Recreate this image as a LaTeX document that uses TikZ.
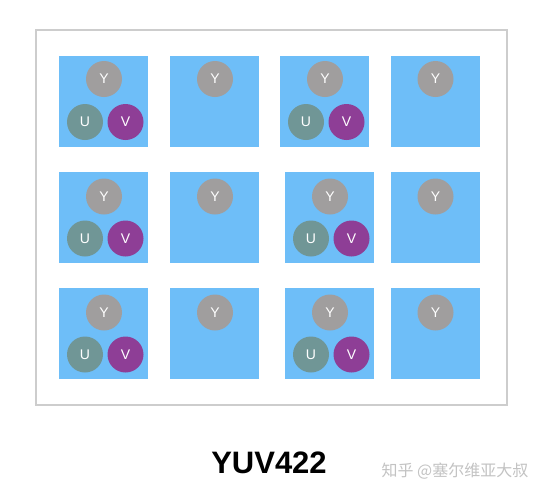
\documentclass[tikz,border=0pt]{standalone}
\usepackage{fontspec}
\setmainfont{Liberation Sans}
\newfontfamily\cjk{Noto Sans CJK SC}
\definecolor{pixblue}{RGB}{110,190,248}
\definecolor{ygray}{RGB}{160,158,158}
\definecolor{uteal}{RGB}{112,150,150}
\definecolor{vpurple}{RGB}{142,62,150}
\definecolor{framegray}{RGB}{205,205,205}
\definecolor{markgray}{RGB}{195,195,195}
\tikzset{
    pixel/.style={fill=pixblue, rectangle, minimum width=89pt, minimum height=91pt, inner sep=0, outer sep=0},
    sample/.style={circle, minimum size=36pt, inner sep=0, outer sep=0, text=white, font=\fontsize{14}{14}\selectfont},
    lumy/.style={sample, fill=ygray},
    chru/.style={sample, fill=uteal},
    chrv/.style={sample, fill=vpurple}
}
\begin{document}
\begin{tikzpicture}[x=1pt, y=-1pt]
    \useasboundingbox[fill=white] (0,0) rectangle (544,496);
    \draw[framegray, line width=1.5pt] (36,30) rectangle (507,405);
    % pixel grid
    \node[pixel] (p11) at (103.5,101) {};
    \node[pixel] (p12) at (214.5,101) {};
    \node[pixel] (p13) at (324.5,101) {};
    \node[pixel] (p14) at (435,101) {};
    \node[pixel] (p21) at (103.5,217.5) {};
    \node[pixel] (p22) at (214.5,217.5) {};
    \node[pixel] (p23) at (329.5,217.5) {};
    \node[pixel] (p24) at (435,217.5) {};
    \node[pixel] (p31) at (103.5,333.5) {};
    \node[pixel] (p32) at (214.5,333.5) {};
    \node[pixel] (p33) at (329.5,333.5) {};
    \node[pixel] (p34) at (435,333.5) {};
    % Y in every pixel
    \node[lumy] (y11) at ([shift={(0.5,-22)}]p11.center) {Y};
    \node[lumy] (y12) at ([shift={(0.5,-22)}]p12.center) {Y};
    \node[lumy] (y13) at ([shift={(0.5,-22)}]p13.center) {Y};
    \node[lumy] (y14) at ([shift={(0.5,-22)}]p14.center) {Y};
    \node[lumy] (y21) at ([shift={(0.5,-21)}]p21.center) {Y};
    \node[lumy] (y22) at ([shift={(0.5,-21)}]p22.center) {Y};
    \node[lumy] (y23) at ([shift={(0.5,-21)}]p23.center) {Y};
    \node[lumy] (y24) at ([shift={(0.5,-21)}]p24.center) {Y};
    \node[lumy] (y31) at ([shift={(0.5,-21)}]p31.center) {Y};
    \node[lumy] (y32) at ([shift={(0.5,-21)}]p32.center) {Y};
    \node[lumy] (y33) at ([shift={(0.5,-21)}]p33.center) {Y};
    \node[lumy] (y34) at ([shift={(0.5,-21)}]p34.center) {Y};
    % U and V only in every other pixel
    \node[chru] (u11) at ([shift={(-18.5,21)}]p11.center) {U};
    \node[chrv] (v11) at ([shift={(22,21)}]p11.center) {V};
    \node[chru] (u13) at ([shift={(-18.5,21)}]p13.center) {U};
    \node[chrv] (v13) at ([shift={(22,21)}]p13.center) {V};
    \node[chru] (u21) at ([shift={(-18.5,21)}]p21.center) {U};
    \node[chrv] (v21) at ([shift={(22,21)}]p21.center) {V};
    \node[chru] (u23) at ([shift={(-18.5,21)}]p23.center) {U};
    \node[chrv] (v23) at ([shift={(22,21)}]p23.center) {V};
    \node[chru] (u31) at ([shift={(-18.5,21)}]p31.center) {U};
    \node[chrv] (v31) at ([shift={(22,21)}]p31.center) {V};
    \node[chru] (u33) at ([shift={(-18.5,21)}]p33.center) {U};
    \node[chrv] (v33) at ([shift={(22,21)}]p33.center) {V};
    % caption
    \node[font=\fontsize{31}{31}\selectfont\bfseries] (title) at (269,463) {YUV422};
    \node[text=markgray, font=\cjk\fontsize{16}{16}\selectfont, anchor=west] (mark) at (378,471) {知乎 @塞尔维亚大叔};
\end{tikzpicture}
\end{document}
